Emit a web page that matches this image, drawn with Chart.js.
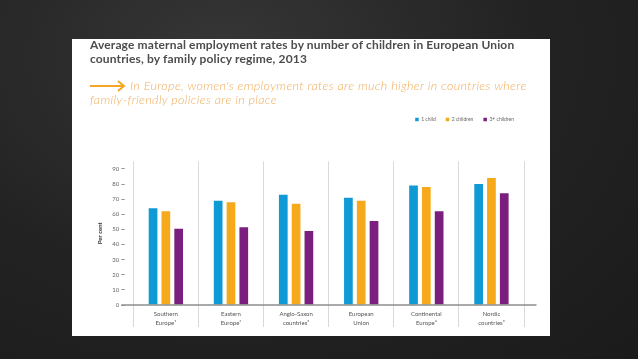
<!DOCTYPE html>
<html>
<head>
<meta charset="utf-8">
<script src="https://cdn.jsdelivr.net/npm/chart.js@4/dist/chart.umd.min.js"></script>
<style>
  html, body { margin: 0; padding: 0; }
  body {
    width: 638px; height: 359px; position: relative; overflow: hidden;
    background: radial-gradient(ellipse at 35% 15%, #363636 0%, #222 55%, #1b1b1b 100%);
    font-family: Lato, sans-serif;
  }
  #panel { position: absolute; left: 72px; top: 39px; width: 478px; height: 297px; background: #fff; }
  #title {
    position: absolute; left: 90px; top: 37.8px; white-space: nowrap;
    font-size: 12px; line-height: 14.4px; font-weight: 700; color: #4d4d4d; letter-spacing: 0.15px;
  }
  #sub {
    position: absolute; left: 90px; top: 78.5px; white-space: nowrap;
    font-size: 12.5px; line-height: 14.3px; font-style: italic; font-weight: 300;
    color: #f0ad5c; letter-spacing: 0.35px;
  }
  #sub .first { padding-left: 40px; }
  #arrow { position: absolute; left: 90px; top: 80px; }
  canvas { position: absolute; left: 0; top: 0; }
</style>
</head>
<body>
<div id="panel"></div>
<canvas id="chart" width="638" height="359"></canvas>
<div id="title">Average maternal employment rates by number of children in European Union<br>countries, by family policy regime, 2013</div>
<svg id="arrow" width="40" height="12">
  <line x1="0" y1="6" x2="33" y2="6" stroke="#f5a623" stroke-width="2"/>
  <polyline points="28,1 34,6 28,11" fill="none" stroke="#f5a623" stroke-width="2"/>
</svg>
<div id="sub"><span class="first">In Europe, women's employment rates are much higher in countries where</span><br>family-friendly policies are in place</div>
<script>
const categories = [
  ['Southern', 'Europe¹'],
  ['Eastern', 'Europe²'],
  ['Anglo-Saxon', 'countries³'],
  ['European', 'Union'],
  ['Continental', 'Europe⁴'],
  ['Nordic', 'countries⁵']
]
const oneChild = [64, 69, 73, 71, 79, 80]
const twoChildren = [62, 68, 67, 69, 78, 84]
const threePlus = [50.5, 51.5, 49, 55.5, 62, 74]
const seriesNames = ['1 child', '2 children', '3+ children']
const yTicks = [0, 10, 20, 30, 40, 50, 60, 70, 80, 90]

// extra room under the legend
const legendGap = {
  id: 'legendGap',
  beforeInit(chart) {
    const fit = chart.legend.fit
    chart.legend.fit = function () {
      fit.call(this)
      this.height += 29.4
    }
  }
}

// zero line that runs a bit past the plot on both sides
const baseline = {
  id: 'baseline',
  afterDatasetsDraw(chart) {
    const {ctx, chartArea, scales} = chart
    const y = scales.y.getPixelForValue(0)
    ctx.save()
    ctx.strokeStyle = '#8c8c8c'
    ctx.lineWidth = 1.5
    ctx.beginPath()
    ctx.moveTo(chartArea.left - 12, y)
    ctx.lineTo(chartArea.right + 12.5, y)
    ctx.stroke()
    ctx.restore()
  }
}

const bar = (label, data, color) => ({
  label: label,
  data: data,
  backgroundColor: color,
  borderWidth: 0,
  categoryPercentage: 0.59,
  barPercentage: 0.68
})

new Chart(document.getElementById('chart'), {
  type: 'bar',
  data: {
    labels: categories,
    datasets: [
      bar(seriesNames[0], oneChild, '#0f9ad6'),
      bar(seriesNames[1], twoChildren, '#f6a91b'),
      bar(seriesNames[2], threePlus, '#7a1f7e')
    ]
  },
  options: {
    responsive: false,
    animation: false,
    layout: { padding: { left: 90, top: 107, right: 114, bottom: 32 } },
    plugins: {
      legend: {
        position: 'top',
        align: 'end',
        labels: {
          boxWidth: 3.5,
          boxHeight: 3.5,
          padding: 10,
          color: '#666',
          font: { family: 'Lato', size: 5 }
        }
      },
      tooltip: { enabled: false }
    },
    scales: {
      x: {
        grid: { offset: true, color: '#d9d9d9', lineWidth: 1, tickLength: 22 },
        border: { display: false },
        ticks: { padding: -17, color: '#555', font: { family: 'Lato', size: 6, lineHeight: 1.4 } },
        afterFit: s => { s.height = 22 }
      },
      y: {
        min: 0,
        max: 95,
        afterBuildTicks: s => { s.ticks = yTicks.map(v => ({ value: v })) },
        grid: {
          drawOnChartArea: false,
          color: '#9a9a9a',
          tickLength: 12,
          tickBorderDash: [3.5, 30]
        },
        border: { display: false },
        ticks: { padding: 2, color: '#666', font: { family: 'Lato', size: 6 } },
        title: {
          display: true,
          text: 'Per cent',
          color: '#333',
          padding: { top: 6, bottom: 0 },
          font: { family: 'Lato', size: 6, weight: 'bold' }
        },
        afterFit: s => { s.width = 43.3 }
      }
    }
  },
  plugins: [legendGap, baseline]
})
</script>
</body>
</html>
